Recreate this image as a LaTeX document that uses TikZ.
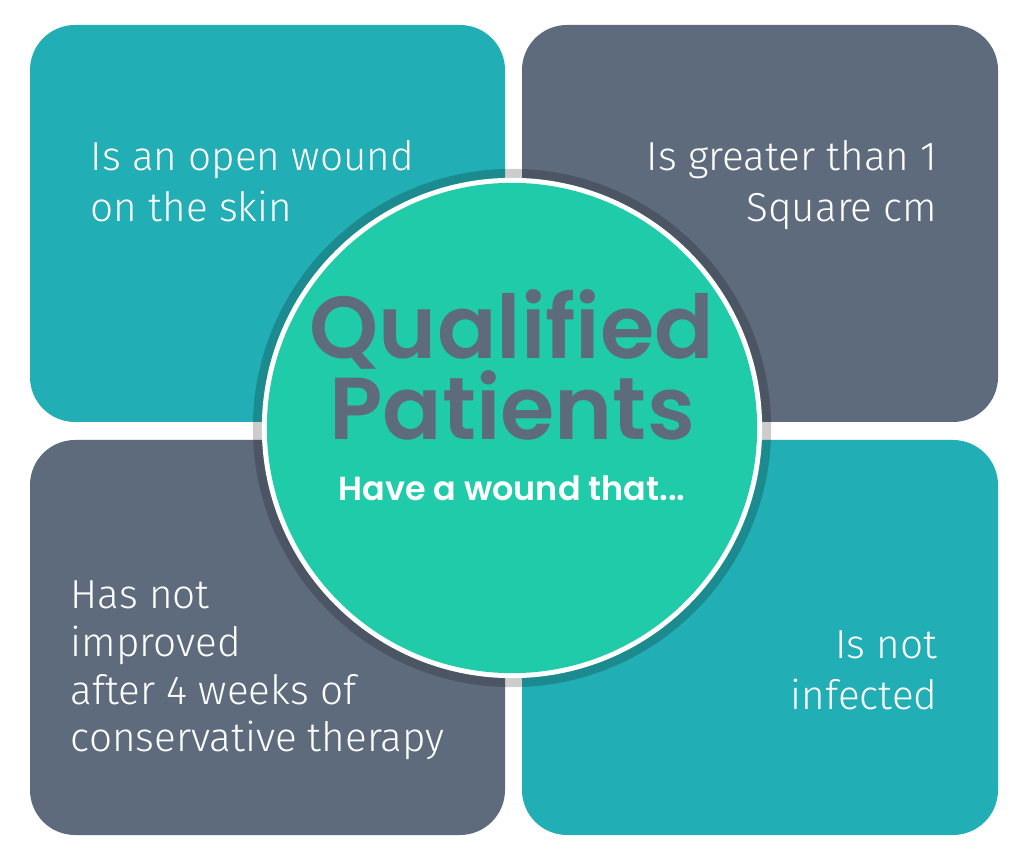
\documentclass[tikz,border=0pt]{standalone}
\usepackage{fontspec}
\setmainfont{Fira Sans Light}
\newfontfamily\titlefont{Poppins SemiBold}
\newfontfamily\subfont{Poppins SemiBold}
\definecolor{tealbox}{HTML}{22AEB5}
\definecolor{slatebox}{HTML}{5E6B7D}
\definecolor{circ}{HTML}{20CBAA}
\begin{document}
\begin{tikzpicture}[x=0.01cm,y=-0.01cm,
  card/.style={rounded corners=0.45cm},
  lbl/.style={text=white,font=\fontsize{11.5}{14.5}\selectfont,inner sep=0pt}]
\useasboundingbox (0,0) rectangle (1024,858);
\fill[white] (0,0) rectangle (1024,858);
\fill[tealbox,card] (30,25) rectangle (505,422);
\fill[slatebox,card] (522,25) rectangle (998,422);
\fill[slatebox,card] (30,440) rectangle (505,835);
\fill[tealbox,card] (522,440) rectangle (998,835);
\fill[black,opacity=0.2] (512,428) circle (2.59cm);
\fill[white] (512,428) circle (2.50cm);
\node[circle,fill=circ,minimum size=4.9cm,inner sep=0pt] (c) at (512,428) {};
\node[font=\titlefont\fontsize{25}{25}\selectfont,text=slatebox,align=center] (t) at (512,365) {Qualified\\[-2pt]Patients};
\node[font=\subfont\fontsize{9.5}{11}\selectfont,text=white] (s) at (512,488) {Have a wound that...};
\node[lbl,anchor=north west,align=left] (a) at (90,140) {Is an open wound\\on the skin};
\node[lbl,anchor=north east,align=right] (b) at (938,140) {Is greater than 1\\Square cm};
\node[lbl,anchor=north west,align=left,font=\fontsize{11.5}{13.6}\selectfont] (d) at (70,580) {Has not\\improved\\after 4 weeks of\\conservative therapy};
\node[lbl,anchor=north east,align=right] (e) at (938,630) {Is not\\infected};
\end{tikzpicture}
\end{document}
